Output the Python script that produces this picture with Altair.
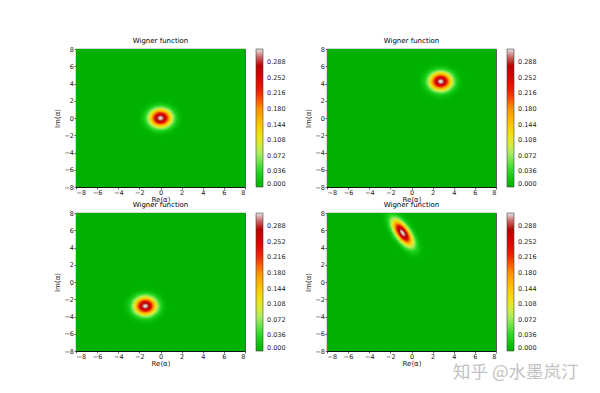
import numpy as np
import pandas as pd
import altair as alt

# ---------------- data ----------------
panel_titles = ["Wigner function", "Wigner function", "Wigner function", "Wigner function"]
center_re = [0.0, 2.76, -1.44, -0.85]          # Re(alpha) of each state's centre
center_im = [0.0, 4.25, -2.78, 5.70]           # Im(alpha) of each state's centre
squeeze_stretch = [1.0, 1.0, 1.0, 1.6]         # stretch along the major axis
squeeze_angle_deg = [0.0, 0.0, 0.0, 118.0]     # direction of the major axis
peak_value = 0.3183                            # 1/pi

axis_ticks = [-8, -6, -4, -2, 0, 2, 4, 6, 8]
colorbar_ticks = [0.0, 0.036, 0.072, 0.108, 0.144, 0.18, 0.216, 0.252, 0.288]

cmap_stops = [0.0, 0.036, 0.075, 0.11, 0.148, 0.185, 0.215, 0.25, 0.285, 0.3183]
cmap_colors = ["#00b000", "#22d822", "#a6ec6a", "#ecec1e", "#fcc400",
               "#ff8a00", "#f42800", "#dc0000", "#b40000", "#e6e6e6"]

watermark = "知乎 @水墨岚汀"

# ---------------- grid of cells ----------------
step = 0.1
edges = np.arange(-8.0, 8.0, step)


def panel_cells(i):
    gx, gy = np.meshgrid(edges, edges)
    cx = gx + step / 2
    cy = gy + step / 2
    dx = cx - center_re[i]
    dy = cy - center_im[i]
    th = np.deg2rad(squeeze_angle_deg[i])
    u = dx * np.cos(th) + dy * np.sin(th)
    v = -dx * np.sin(th) + dy * np.cos(th)
    s = squeeze_stretch[i]
    w = peak_value * np.exp(-(u ** 2 / s ** 2 + v ** 2 * s ** 2))
    m = w > 0.0015
    return pd.DataFrame({
        "x": gx[m], "x2": np.minimum(gx[m] + step * 1.5, 8.0),
        "y": gy[m], "y2": np.minimum(gy[m] + step * 1.5, 8.0),
        "w": w[m],
    })


W, H = 169, 138


def panel(i):
    bg = pd.DataFrame({"x": [-8.0], "x2": [8.0], "y": [-8.0], "y2": [8.0], "w": [0.0]})
    xs = alt.Scale(domain=[-8, 8], nice=False, zero=False)
    ys = alt.Scale(domain=[-8, 8], nice=False, zero=False)
    color = alt.Color(
        "w:Q",
        scale=alt.Scale(domain=cmap_stops, range=cmap_colors, interpolate="rgb"),
        legend=alt.Legend(
            title=None, orient="right", offset=11, padding=0,
            gradientLength=H, gradientThickness=7,
            gradientStrokeColor="#444", gradientStrokeWidth=0.6,
            values=colorbar_ticks, format=".3f",
            labelFontSize=6.5, labelBaseline="middle", labelOffset=4,
            labelColor="#222", labelFont="DejaVu Sans", labelOverlap=False,
        ),
    )
    enc = dict(
        x=alt.X("x:Q", scale=xs, axis=alt.Axis(values=axis_ticks, title="Re(α)", format="d", grid=False)),
        x2="x2:Q",
        y=alt.Y("y:Q", scale=ys, axis=alt.Axis(values=axis_ticks, title="Im(α)", format="d", grid=False)),
        y2="y2:Q",
        color=color,
    )
    base = alt.Chart(bg).mark_rect(clip=True).encode(**enc)
    cells = alt.Chart(panel_cells(i)).mark_rect(clip=True).encode(**enc)
    layers = [base, cells]
    if i == 3:
        wm = alt.Chart(pd.DataFrame({"t": [watermark]})).mark_text(
            align="left", baseline="alphabetic", fontSize=17.5,
            font="Noto Sans CJK SC", color="#c2c2c2"
        ).encode(text="t:N", x=alt.value(126), y=alt.value(165))
        layers.append(wm)
    return alt.layer(*layers).properties(
        width=W, height=H,
        title=alt.TitleParams(panel_titles[i], fontSize=7, offset=2,
                              fontWeight="normal", font="DejaVu Sans", color="black"),
    )


row1 = alt.hconcat(panel(0), panel(1), spacing=17).resolve_scale(color="independent")
row2 = alt.hconcat(panel(2), panel(3), spacing=17).resolve_scale(color="independent")
chart = alt.vconcat(row1, row2, spacing=-3).resolve_scale(color="independent").properties(
    padding={"left": 45, "top": 28, "right": 5, "bottom": 5},
    background="white",
).configure_view(
    stroke="black", strokeWidth=0.8
).configure_axis(
    domainColor="black", domainWidth=0.8,
    tickColor="black", tickWidth=0.6, tickSize=2,
    labelFontSize=6.5, labelColor="#222", labelFont="DejaVu Sans", labelPadding=0.5,
    titleFontSize=7, titleFontWeight="normal", titleColor="#222", titleFont="DejaVu Sans",
).configure_axisX(
    titlePadding=-1
).configure_axisY(
    titlePadding=3
)

chart.save("out.html", embed_options={"renderer": "svg", "actions": False})
